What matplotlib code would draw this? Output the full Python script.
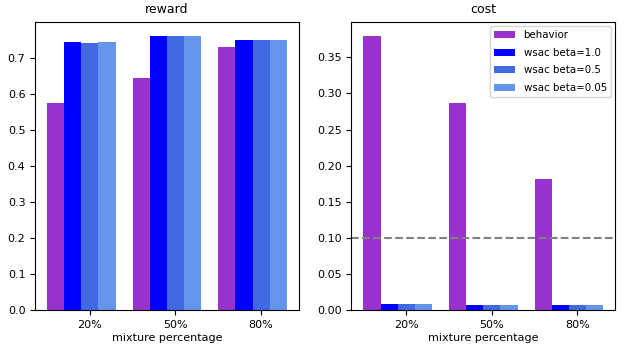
import numpy as np
import matplotlib.pyplot as plt

# mixture percentages on the x axis
categories = ["20%", "50%", "80%"]
labels = ["behavior", "wsac beta=1.0", "wsac beta=0.5", "wsac beta=0.05"]
colors = ["darkorchid", "blue", "royalblue", "cornflowerblue"]

# reward per method
reward_behavior = [0.575, 0.643, 0.728]
reward_beta1 = [0.742, 0.761, 0.749]
reward_beta05 = [0.740, 0.761, 0.749]
reward_beta005 = [0.744, 0.761, 0.749]

# cost per method
cost_behavior = [0.380, 0.287, 0.181]
cost_beta1 = [0.0083, 0.0069, 0.0069]
cost_beta05 = [0.0083, 0.0069, 0.0069]
cost_beta005 = [0.0083, 0.0069, 0.0069]

cost_limit = 0.1

rewards = [reward_behavior, reward_beta1, reward_beta05, reward_beta005]
costs = [cost_behavior, cost_beta1, cost_beta05, cost_beta005]

x = np.arange(len(categories))
w = 0.2

fig, (ax1, ax2) = plt.subplots(1, 2, figsize=(6.27, 3.46), dpi=100)
plt.subplots_adjust(left=0.056, right=0.981, top=0.937, bottom=0.103, wspace=0.2)

for i in range(4):
    ax1.bar(x + (i - 2) * w, rewards[i], w, color=colors[i], label=labels[i])
    ax2.bar(x + (i - 2) * w, costs[i], w, color=colors[i], label=labels[i])

ax2.axhline(cost_limit, color="gray", linestyle="--")

for ax, title in [(ax1, "reward"), (ax2, "cost")]:
    ax.set_title(title, fontsize=9)
    ax.set_xticks(x)
    ax.set_xticklabels(categories)
    ax.set_xlabel("mixture percentage", fontsize=8, labelpad=2)
    ax.tick_params(labelsize=8)

ax2.legend(fontsize=7.4, loc="upper right", handlelength=2.1,
           labelspacing=0.75, borderaxespad=0.4)

plt.savefig("out.png")
